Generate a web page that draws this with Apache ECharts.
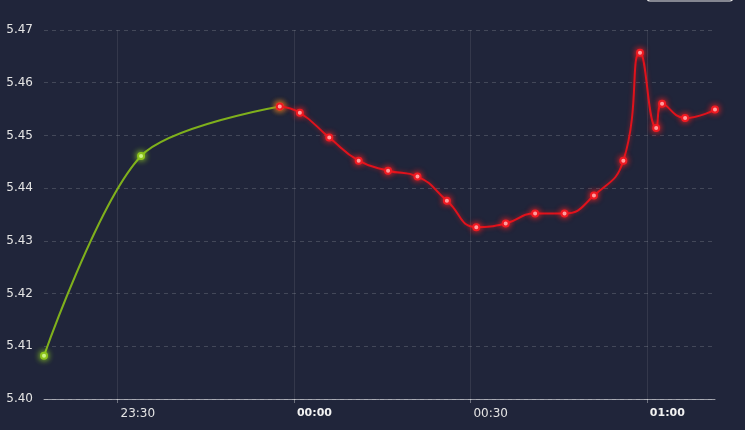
<!DOCTYPE html>
<html>
<head>
<meta charset="utf-8">
<script src="https://cdn.jsdelivr.net/npm/echarts@6/dist/echarts.min.js"></script>
<style>
    html, body { margin: 0; padding: 0; background: #20253a; }
    #chart-line { width: 745px; height: 430px; }
</style>
</head>
<body>
<div id="chart-line"></div>
<script>
// first leg (green), ends where the red leg starts
const greenTimes = ['2024-01-01 23:17:30', '2024-01-01 23:34:00', '2024-01-01 23:57:35'];
const greenValues = [5.4082, 5.4461, 5.4555];

const redTimes = [
    '2024-01-01 23:57:35', '2024-01-02 00:01:00', '2024-01-02 00:06:00', '2024-01-02 00:11:00',
    '2024-01-02 00:16:00', '2024-01-02 00:21:00', '2024-01-02 00:26:00', '2024-01-02 00:31:00',
    '2024-01-02 00:36:00', '2024-01-02 00:41:00', '2024-01-02 00:46:00', '2024-01-02 00:51:00',
    '2024-01-02 00:56:00', '2024-01-02 00:58:50', '2024-01-02 01:01:35', '2024-01-02 01:02:35',
    '2024-01-02 01:06:30', '2024-01-02 01:11:35'
];
const redValues = [
    5.4555, 5.4543, 5.4496, 5.4452, 5.4433, 5.4422, 5.4376, 5.4326,
    5.4333, 5.4352, 5.4352, 5.4386, 5.4452, 5.4657, 5.4514, 5.4560,
    5.4533, 5.4549
];

// x ticks / labels every half hour
const xTickTimes = ['2024-01-01 23:30:00', '2024-01-02 00:00:00', '2024-01-02 00:30:00', '2024-01-02 01:00:00'];

const yMin = 5.40;
const yMax = 5.47;
const yStep = 0.01;

function toTime (s) {
    return new Date(s.replace(' ', 'T')).getTime();
}

function pairs (times, values) {
    let out = [];
    for (let i = 0; i < times.length; i++) {
        out.push([toTime(times[i]), values[i]]);
    }
    return out;
}

function pad (n) {
    return n < 10 ? '0' + n : '' + n;
}

const tickValues = xTickTimes.map(toTime);

let chartLine = echarts.init(document.getElementById('chart-line'));
chartLine.setOption({
    backgroundColor: '#20253a',
    animation: false,
    textStyle: {
        fontFamily: 'DejaVu Sans'
    },
    grid: {
        left: 44,
        right: 30,
        top: 30,
        bottom: 31
    },
    graphic: [{
        type: 'rect',
        shape: { x: 647, y: -20, width: 86, height: 21, r: 3 },
        style: { fill: '#20253a', stroke: '#e8e8e8', lineWidth: 1.2 }
    }],
    xAxis: {
        type: 'value',
        min: 'dataMin',
        max: 'dataMax',
        axisLine: {
            lineStyle: {
                color: 'rgba(255,255,255,0.55)'
            }
        },
        axisTick: {
            show: true,
            length: 4,
            customValues: tickValues,
            lineStyle: {
                color: 'rgba(255,255,255,0.35)'
            }
        },
        axisLabel: {
            color: '#e4e4e4',
            fontSize: 12,
            margin: 9,
            align: 'left',
            padding: [0, 0, 0, 3],
            customValues: tickValues,
            formatter: function (val) {
                let d = new Date(val);
                let s = pad(d.getHours()) + ':' + pad(d.getMinutes());
                return d.getMinutes() === 0 ? '{b|' + s + '}' : s;
            },
            rich: {
                b: {
                    color: '#f2f2f2',
                    fontSize: 11,
                    fontWeight: 'bold',
                    fontFamily: 'DejaVu Sans'
                }
            }
        },
        splitLine: {
            show: true,
            lineStyle: {
                color: 'rgba(255,255,255,0.09)',
                type: 'solid'
            }
        }
    },
    yAxis: {
        type: 'value',
        min: yMin,
        max: yMax,
        interval: yStep,
        axisLine: {
            show: false
        },
        axisTick: {
            show: false
        },
        axisLabel: {
            color: '#e4e4e4',
            fontSize: 12,
            margin: 11,
            formatter: function (v) {
                return v.toFixed(2);
            }
        },
        splitLine: {
            lineStyle: {
                color: 'rgba(255,255,255,0.16)',
                type: [4, 4]
            }
        }
    },
    series: [{
        type: 'line',
        smooth: 0.3,
        data: pairs(greenTimes, greenValues),
        symbol: 'circle',
        symbolSize: 6,
        lineStyle: {
            color: '#7fb01c',
            width: 2
        },
        itemStyle: {
            color: '#eaffc0',
            borderColor: '#8cc21c',
            borderWidth: 2,
            shadowColor: '#9be020',
            shadowBlur: 6
        },
        z: 2
    }, {
        type: 'line',
        smooth: true,
        data: pairs(redTimes, redValues),
        symbol: 'circle',
        symbolSize: 6,
        lineStyle: {
            color: '#e0121c',
            width: 2,
            shadowColor: 'rgba(255,30,30,0.5)',
            shadowBlur: 4
        },
        itemStyle: {
            color: '#ffe8e8',
            borderColor: '#f01a22',
            borderWidth: 2,
            shadowColor: '#ff2020',
            shadowBlur: 6
        },
        z: 3
    }]
});
</script>
</body>
</html>
